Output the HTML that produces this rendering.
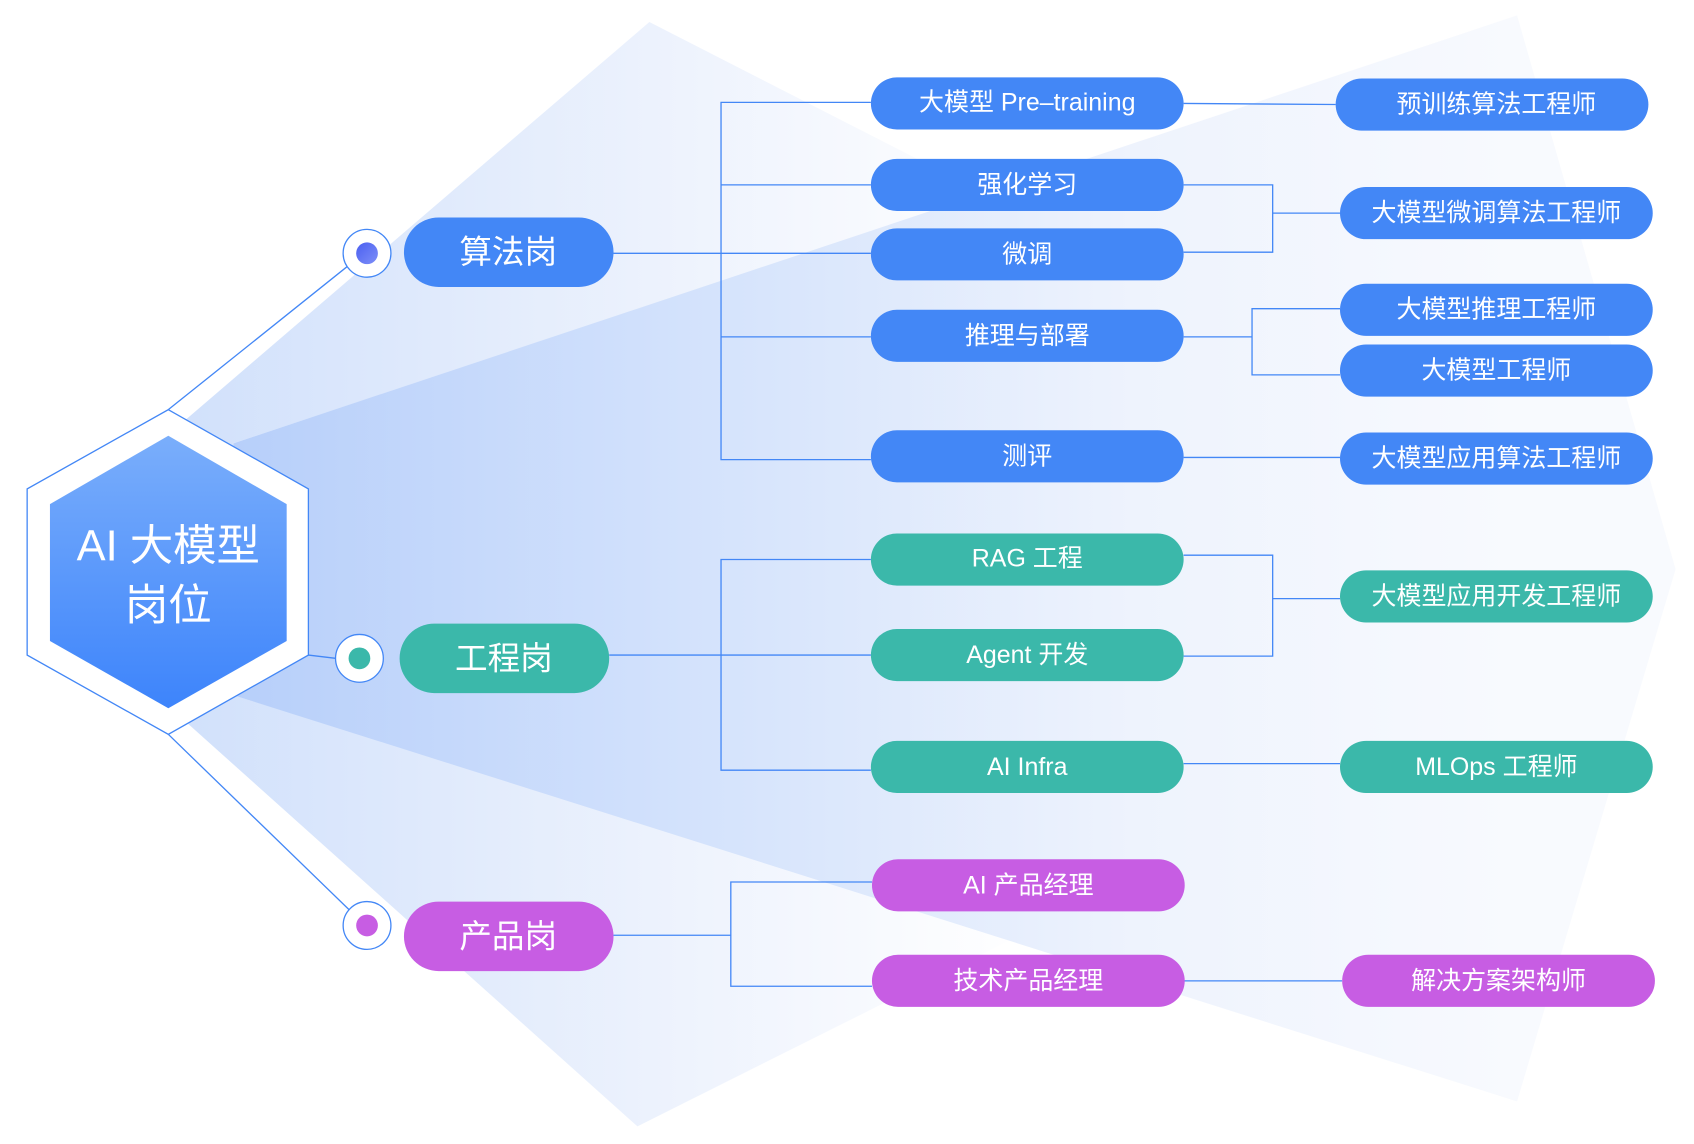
<!DOCTYPE html>
<html><head><meta charset="utf-8"><style>
html,body{margin:0;padding:0;background:#fff;}
svg{display:block;}
text{font-family:"Liberation Sans","Noto Sans CJK SC",sans-serif;fill:#fff;text-anchor:middle;dominant-baseline:central;}
</style></head><body>
<svg width="1694" height="1144" viewBox="0 0 1560 1053" xmlns="http://www.w3.org/2000/svg">
<defs>
<linearGradient id="fo" gradientUnits="userSpaceOnUse" x1="150" y1="0" x2="950" y2="0">
<stop offset="0" stop-color="#d0e0fb"/><stop offset="0.6" stop-color="#eef3fd"/><stop offset="1" stop-color="#ffffff"/>
</linearGradient>
<linearGradient id="fr" gradientUnits="userSpaceOnUse" x1="900" y1="0" x2="1550" y2="0">
<stop offset="0" stop-color="#f3f6fe"/><stop offset="1" stop-color="#fbfcff"/>
</linearGradient>
<linearGradient id="fi" gradientUnits="userSpaceOnUse" x1="215" y1="0" x2="1400" y2="0">
<stop offset="0" stop-color="#b7cffa"/><stop offset="0.35" stop-color="#d3e2fc"/><stop offset="0.7" stop-color="#eef3fd"/><stop offset="1" stop-color="#f8fafe"/>
</linearGradient>
<linearGradient id="hx" x1="0" y1="0" x2="0" y2="1">
<stop offset="0" stop-color="#7aaefb"/><stop offset="1" stop-color="#3d84fb"/>
</linearGradient>
<linearGradient id="d1" x1="0" y1="0" x2="1" y2="1">
<stop offset="0" stop-color="#4a5ff0"/><stop offset="1" stop-color="#7e8ff8"/>
</linearGradient>
</defs>
<rect width="1560" height="1053" fill="#fff"/>
<polygon points="1397,14 1543,524 1397,1014 935,863 907,178" fill="url(#fr)"/>
<polygon points="155,400 598,20 907,178 215,408 215,640 935,863 587,1037 155,650" fill="url(#fo)"/>
<polygon points="215,408 1397,14 1543,524 1397,1014 215,640" fill="url(#fi)"/>

<!-- hexagon -->
<polygon points="155,377 284,450 284,603 155,676 25,603 25,450" fill="#fff" stroke="#4387f6" stroke-width="1.2"/>
<polygon points="155,401 264,464 264,590 155,652 46,590 46,464" fill="url(#hx)"/>
<text x="155" y="503" font-size="40">AI 大模型</text>
<text x="155" y="558" font-size="40">岗位</text>

<!-- spokes -->
<g stroke="#4387f6" stroke-width="1.2" fill="none">
<line x1="155" y1="377" x2="320" y2="245"/>
<line x1="284" y1="603" x2="309" y2="606"/>
<line x1="155" y1="676" x2="322" y2="838"/>
</g>
<circle cx="338" cy="233" r="22" fill="#fff" stroke="#4387f6" stroke-width="1.2"/>
<circle cx="338" cy="233" r="10" fill="url(#d1)"/>
<circle cx="331" cy="606" r="22" fill="#fff" stroke="#4387f6" stroke-width="1.2"/>
<circle cx="331" cy="606" r="10" fill="#3bb8aa"/>
<circle cx="338" cy="852" r="22" fill="#fff" stroke="#4387f6" stroke-width="1.2"/>
<circle cx="338" cy="852" r="10" fill="#c75de3"/>

<!-- connectors -->
<g stroke="#4387f6" stroke-width="1.2" fill="none">
<polyline points="565,233 802,233"/>
<polyline points="802,94 664,94 664,423 802,423"/>
<line x1="664" y1="170" x2="802" y2="170"/>
<line x1="664" y1="310" x2="802" y2="310"/>
<polyline points="561,603 802,603"/>
<polyline points="802,515 664,515 664,709 802,709"/>
<polyline points="565,861 673,861"/>
<polyline points="803,812 673,812 673,908 803,908"/>
<line x1="1090" y1="95" x2="1230" y2="96"/>
<polyline points="1090,170 1172,170 1172,232 1090,232"/>
<line x1="1172" y1="196" x2="1234" y2="196"/>
<polyline points="1090,310 1153,310"/>
<polyline points="1234,284 1153,284 1153,345 1234,345"/>
<line x1="1090" y1="421" x2="1234" y2="421"/>
<polyline points="1090,511 1172,511 1172,604 1090,604"/>
<line x1="1172" y1="551" x2="1234" y2="551"/>
<line x1="1090" y1="703" x2="1234" y2="703"/>
<line x1="1090" y1="903" x2="1236" y2="903"/>
</g>

<!-- category pills -->
<rect x="372" y="200" width="193" height="64" rx="32" fill="#4387f6"/>
<text x="468" y="232" font-size="30">算法岗</text>
<rect x="368" y="574" width="193" height="64" rx="32" fill="#3bb8aa"/>
<text x="464" y="606" font-size="30">工程岗</text>
<rect x="372" y="830" width="193" height="64" rx="32" fill="#c75de3"/>
<text x="468" y="862" font-size="30">产品岗</text>

<!-- level 2 -->
<g font-size="23">
<rect x="802" y="71" width="288" height="48" rx="24" fill="#4387f6"/><text x="946" y="94">大模型 Pre–training</text>
<rect x="802" y="146" width="288" height="48" rx="24" fill="#4387f6"/><text x="946" y="170">强化学习</text>
<rect x="802" y="210" width="288" height="48" rx="24" fill="#4387f6"/><text x="946" y="234">微调</text>
<rect x="802" y="285" width="288" height="48" rx="24" fill="#4387f6"/><text x="946" y="309">推理与部署</text>
<rect x="802" y="396" width="288" height="48" rx="24" fill="#4387f6"/><text x="946" y="420">测评</text>
<rect x="802" y="491" width="288" height="48" rx="24" fill="#3bb8aa"/><text x="946" y="514">RAG 工程</text>
<rect x="802" y="579" width="288" height="48" rx="24" fill="#3bb8aa"/><text x="946" y="603">Agent 开发</text>
<rect x="802" y="682" width="288" height="48" rx="24" fill="#3bb8aa"/><text x="946" y="706">AI Infra</text>
<rect x="803" y="791" width="288" height="48" rx="24" fill="#c75de3"/><text x="947" y="815">AI 产品经理</text>
<rect x="803" y="879" width="288" height="48" rx="24" fill="#c75de3"/><text x="947" y="903">技术产品经理</text>
</g>

<!-- level 3 -->
<g font-size="23">
<rect x="1230" y="72" width="288" height="48" rx="24" fill="#4387f6"/><text x="1378" y="96">预训练算法工程师</text>
<rect x="1234" y="172" width="288" height="48" rx="24" fill="#4387f6"/><text x="1378" y="196">大模型微调算法工程师</text>
<rect x="1234" y="261" width="288" height="48" rx="24" fill="#4387f6"/><text x="1378" y="285">大模型推理工程师</text>
<rect x="1234" y="317" width="288" height="48" rx="24" fill="#4387f6"/><text x="1378" y="341">大模型工程师</text>
<rect x="1234" y="398" width="288" height="48" rx="24" fill="#4387f6"/><text x="1378" y="422">大模型应用算法工程师</text>
<rect x="1234" y="525" width="288" height="48" rx="24" fill="#3bb8aa"/><text x="1378" y="549">大模型应用开发工程师</text>
<rect x="1234" y="682" width="288" height="48" rx="24" fill="#3bb8aa"/><text x="1378" y="706">MLOps 工程师</text>
<rect x="1236" y="879" width="288" height="48" rx="24" fill="#c75de3"/><text x="1380" y="903">解决方案架构师</text>
</g>
</svg>
</body></html>
